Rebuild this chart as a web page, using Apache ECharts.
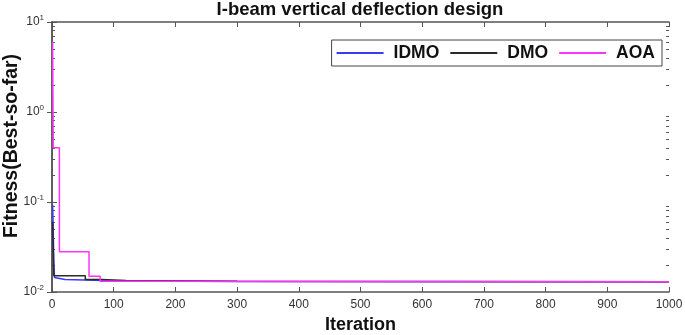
<!DOCTYPE html>
<html lang="en">
<head>
    <meta charset="UTF-8">
    <title>I-beam vertical deflection design</title>
    <script src="https://cdn.jsdelivr.net/npm/echarts@6/dist/echarts.min.js"></script>
    <style>
        body { margin: 0; background: #fff; }
        #box { width: 685px; height: 335px; }
    </style>
</head>
<body>
<div id="box"></div>
<script>
    // step curves: value holds from its iteration until the next one
    var idmoIter = [1, 2, 3, 4, 5, 21, 100, 300, 1000];
    var idmoVal = [0.093, 0.05, 0.02, 0.0145, 0.0138, 0.0133, 0.0131, 0.0130, 0.0130];

    var dmoIter = [1, 2, 3, 54, 80, 120, 300, 1000];
    var dmoVal = [0.06, 0.03, 0.0152, 0.0138, 0.0134, 0.0132, 0.0130, 0.0130];

    var aoaIter = [1, 2, 12, 60, 78, 150, 1000];
    var aoaVal = [6.0, 0.4, 0.028, 0.015, 0.0132, 0.0130, 0.0130];

    var xTicks = [0, 100, 200, 300, 400, 500, 600, 700, 800, 900, 1000];
    var yMajor = [0.01, 0.1, 1, 10];
    var yMinor = [0.02, 0.03, 0.04, 0.05, 0.06, 0.07, 0.08, 0.09,
        0.2, 0.3, 0.4, 0.5, 0.6, 0.7, 0.8, 0.9,
        2, 3, 4, 5, 6, 7, 8, 9];

    function pairs(xs, ys) {
        var out = [];
        for (var i = 0; i < xs.length; i++) out.push([xs[i], ys[i]]);
        return out;
    }

    var axisColor = '#555';
    var font = 'Arial, "Liberation Sans", sans-serif';

    function xAxisOf(pos, showLabel) {
        return {
            type: 'value', position: pos, min: 0, max: 1000, interval: 100,
            name: showLabel ? 'Iteration' : '',
            nameLocation: 'middle', nameGap: 24, nameMoveOverlap: false,
            nameTextStyle: { fontFamily: font, fontWeight: 'bold', fontSize: 18, color: '#111' },
            axisLine: { show: true, lineStyle: { color: axisColor, width: 1.5 } },
            axisTick: { show: true, inside: true, length: 5, customValues: xTicks, lineStyle: { color: axisColor } },
            axisLabel: {
                show: showLabel, color: '#333', fontFamily: font, fontSize: 12, margin: 7,
                customValues: xTicks,
                formatter: function (v) { return String(v); }
            },
            splitLine: { show: false }
        };
    }

    function yAxisOf(pos, showLabel, minor) {
        return {
            type: 'log', logBase: 10, position: pos, min: 0.01, max: 10,
            name: showLabel ? 'Fitness(Best-so-far)' : '',
            nameLocation: 'middle', nameGap: 30, nameRotate: 90, nameMoveOverlap: false,
            nameTextStyle: { fontFamily: font, fontWeight: 'bold', fontSize: 19.5, color: '#111', padding: [0, 0, 0, 22] },
            axisLine: { show: !minor, lineStyle: { color: axisColor, width: 1.5 } },
            axisTick: {
                show: true, inside: true, length: minor ? 3 : 5,
                customValues: minor ? yMinor : yMajor,
                lineStyle: { color: axisColor }
            },
            axisLabel: {
                show: showLabel, color: '#333', fontFamily: font, fontSize: 12, margin: 8,
                customValues: yMajor,
                formatter: function (v) {
                    return '10{sup|' + Math.round(Math.log10(v)) + '}';
                },
                rich: { sup: { fontSize: 8, fontFamily: font, color: '#333', verticalAlign: 'top', padding: [0, 0, 9, 0] } }
            },
            splitLine: { show: false }
        };
    }

    var box = echarts.init(document.getElementById('box'));
    box.setOption({
        animation: false,
        backgroundColor: '#fff',
        title: {
            text: 'I-beam vertical deflection design',
            left: 360, textAlign: 'center', top: 0, padding: 0,
            textStyle: { fontFamily: font, fontWeight: 'bold', fontSize: 18.5, color: '#111' }
        },
        grid: { left: 52, right: 16, top: 22, bottom: 43, outerBoundsMode: 'none', containLabel: false },
        legend: {
            right: 23, top: 40,
            orient: 'horizontal',
            itemWidth: 47, itemHeight: 2, itemGap: 11,
            padding: [4, 7, 4, 5],
            borderColor: '#444', borderWidth: 1, backgroundColor: '#fff',
            textStyle: { fontFamily: font, fontWeight: 'bold', fontSize: 17.5, color: '#111', padding: [0, 0, 0, 5] },
            icon: 'rect',
            data: ['IDMO', 'DMO', 'AOA']
        },
        xAxis: [xAxisOf('bottom', true), xAxisOf('top', false)],
        yAxis: [yAxisOf('left', true, false), yAxisOf('right', false, false),
            yAxisOf('left', false, true), yAxisOf('right', false, true)],
        series: [
            { name: 'IDMO', type: 'line', step: 'end', showSymbol: false, color: '#3b3bf5',
              lineStyle: { width: 1.5 }, data: pairs(idmoIter, idmoVal) },
            { name: 'DMO', type: 'line', step: 'end', showSymbol: false, color: '#2a2a2a',
              lineStyle: { width: 1.5 }, data: pairs(dmoIter, dmoVal) },
            { name: 'AOA', type: 'line', step: 'end', showSymbol: false, color: '#ff33ff',
              lineStyle: { width: 1.5 }, data: pairs(aoaIter, aoaVal) }
        ]
    });
</script>
</body>
</html>
